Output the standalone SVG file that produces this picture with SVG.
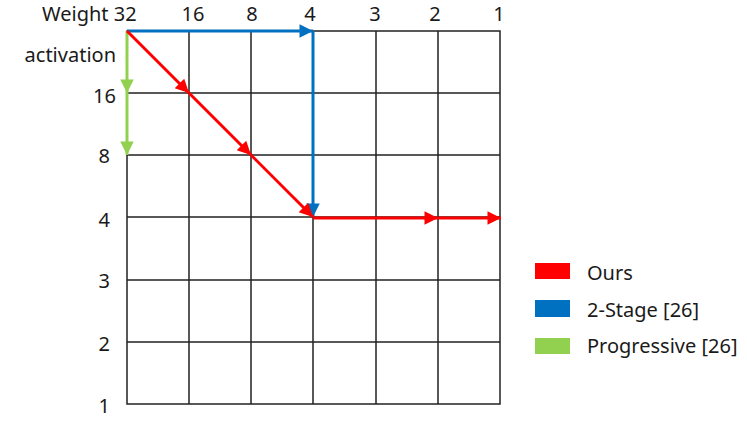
<svg xmlns="http://www.w3.org/2000/svg" width="747" height="423" viewBox="0 0 747 423">
<style>
.grid{stroke:#222;stroke-width:1.5;fill:none}
.lbl{font-family:"Noto Sans","Liberation Sans",sans-serif;font-size:20px;fill:#1a1a1a}
.red{stroke:#FF0000;stroke-width:3;fill:none}
.blue{stroke:#0070C0;stroke-width:3;fill:none}
.green{stroke:#92D050;stroke-width:3;fill:none}
</style>
<defs>
<marker id="ar" viewBox="0 0 10 10" refX="10" refY="5" markerWidth="5" markerHeight="4.5" orient="auto" markerUnits="strokeWidth"><path d="M0,0L10,5L0,10z" fill="#FF0000"/></marker>
<marker id="ab" viewBox="0 0 10 10" refX="10" refY="5" markerWidth="5" markerHeight="4.5" orient="auto" markerUnits="strokeWidth"><path d="M0,0L10,5L0,10z" fill="#0070C0"/></marker>
<marker id="ag" viewBox="0 0 10 10" refX="10" refY="5" markerWidth="5" markerHeight="4.5" orient="auto" markerUnits="strokeWidth"><path d="M0,0L10,5L0,10z" fill="#92D050"/></marker>
</defs>
<g id="grid">
<rect class="grid" x="127" y="31" width="373" height="373"/>
<path class="grid" d="M189,31V404M251,31V404M313,31V404M376,31V404M438,31V404M127,93H500M127,155H500M127,217H500M127,280H500M127,342H500"/>
</g>
<g id="labels">
<text class="lbl" x="42" y="21">Weight 32</text>
<text class="lbl" x="193" y="21" text-anchor="middle">16</text>
<text class="lbl" x="252" y="21" text-anchor="middle">8</text>
<text class="lbl" x="310" y="21" text-anchor="middle">4</text>
<text class="lbl" x="375" y="21" text-anchor="middle">3</text>
<text class="lbl" x="435" y="21" text-anchor="middle">2</text>
<text class="lbl" x="499" y="21" text-anchor="middle">1</text>
<text class="lbl" x="116" y="62" text-anchor="end">activation</text>
<text class="lbl" x="116" y="103" text-anchor="end">16</text>
<text class="lbl" x="110" y="163" text-anchor="end">8</text>
<text class="lbl" x="110" y="227" text-anchor="end">4</text>
<text class="lbl" x="110" y="288" text-anchor="end">3</text>
<text class="lbl" x="110" y="351" text-anchor="end">2</text>
<text class="lbl" x="110" y="413" text-anchor="end">1</text>
</g>
<g id="connectors">
<path class="green" d="M127,31V93" marker-end="url(#ag)"/>
<path class="green" d="M127,93V155" marker-end="url(#ag)"/>
<path class="blue" d="M127,31H313" marker-end="url(#ab)"/>
<path class="blue" d="M313,31V217" marker-end="url(#ab)"/>
<path class="red" d="M127,31L189,93" marker-end="url(#ar)"/>
<path class="red" d="M189,93L251,155" marker-end="url(#ar)"/>
<path class="red" d="M251,155L313,217" marker-end="url(#ar)"/>
<path class="red" d="M313,218H438" marker-end="url(#ar)"/>
<path class="red" d="M438,218H501" marker-end="url(#ar)"/>
</g>
<g id="legend">
<rect x="535" y="263" width="35" height="16" fill="#FF0000"/>
<text class="lbl" x="587" y="280">Ours</text>
<rect x="535" y="300" width="35" height="17" fill="#0070C0"/>
<text class="lbl" x="587" y="317">2-Stage [26]</text>
<rect x="535" y="338" width="35" height="16" fill="#92D050"/>
<text class="lbl" x="587" y="353">Progressive [26]</text>
</g>
</svg>
